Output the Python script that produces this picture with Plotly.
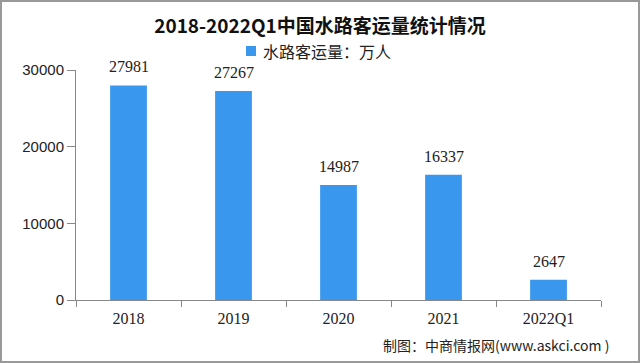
import plotly.graph_objects as go

categories = ["2018", "2019", "2020", "2021", "2022Q1"]
values = [27981, 27267, 14987, 16337, 2647]
series_name = "水路客运量：万人"
title = "2018-2022Q1中国水路客运量统计情况"
source = "制图：中商情报网(www.askci.com )"
y_ticks = [0, 10000, 20000, 30000]
y_tick_labels = ["0", "10000", "20000", "30000"]

W, H = 640, 363
L, R, T, B = 76, 39, 70, 63
pw, ph = W - L - R, H - T - B
BAR_COLOR = "#3a97ee"

def px(x):
    return (x - L) / pw

def py(y):
    return (H - B - y) / ph

fig = go.Figure()
fig.add_trace(go.Bar(
    x=categories, y=values, name=series_name,
    marker=dict(color=BAR_COLOR, line=dict(width=0)),
    showlegend=False,
))

# category axis: annotations placed by category index
for i, v in enumerate(values):
    fig.add_annotation(x=i, y=v, xref="x", yref="y", text=str(v),
                       showarrow=False, yanchor="bottom", yshift=8,
                       font=dict(family="Liberation Serif, serif", size=16, color="#222"))

fig.update_layout(
    width=W, height=H,
    margin=dict(l=L, r=R, t=T, b=B, autoexpand=False),
    paper_bgcolor="white", plot_bgcolor="white",
    bargap=0.65,
    showlegend=False,
    title=dict(text="<b>" + title + "</b>", x=0.5, xref="container", xanchor="center",
               y=1 - 26 / H, yref="container", yanchor="middle",
               font=dict(family="Noto Sans CJK SC", size=19, color="#111")),
    xaxis=dict(type="category", range=[-0.5, len(categories) - 0.5],
               showline=True, linecolor="#888", linewidth=1,
               ticks="outside", ticklen=6, tickcolor="#888", tickson="boundaries",
               ticklabelstandoff=4, tickangle=0,
               tickfont=dict(family="Liberation Serif, serif", size=16, color="#222"),
               showgrid=False),
    yaxis=dict(range=[0, 30000], tickvals=y_ticks, ticktext=y_tick_labels,
               showline=True, linecolor="#888",
               linewidth=1, ticks="outside", ticklen=8, tickcolor="#888",
               tickfont=dict(family="Liberation Sans, Arial", size=15, color="#222"),
               showgrid=False, zeroline=False),
)

# legend drawn manually to match the tight marker/text spacing
fig.add_shape(type="rect", xref="paper", yref="paper",
              x0=px(246), x1=px(256), y0=py(56), y1=py(46),
              line=dict(width=0), fillcolor=BAR_COLOR)
fig.add_annotation(text=series_name, xref="paper", yref="paper",
                   x=px(261), y=py(51), xanchor="left", yanchor="middle",
                   showarrow=False,
                   font=dict(family="Noto Sans CJK SC", size=16, color="#222"))

fig.add_annotation(text=source, xref="paper", yref="paper",
                   x=px(611), y=py(345), xanchor="right", yanchor="middle",
                   showarrow=False,
                   font=dict(family="Noto Sans CJK SC", size=14, color="#222"))

fig.add_shape(type="rect", xref="paper", yref="paper",
              x0=px(1), x1=px(639), y0=py(362), y1=py(1),
              line=dict(color="#999", width=2), fillcolor="rgba(0,0,0,0)", layer="below")

fig.write_html("out.html")
